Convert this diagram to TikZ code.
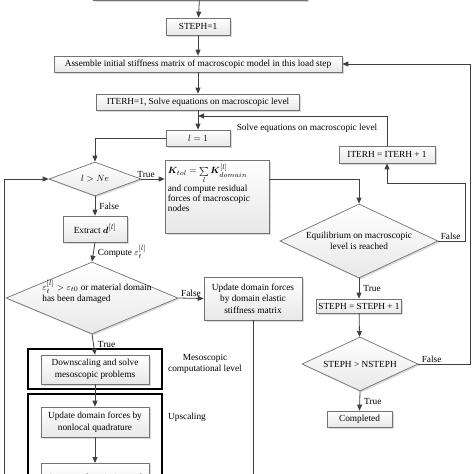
\documentclass[tikz,border=0pt]{standalone}
\usepackage{amsmath,bm}
\usepackage{fontspec}
\setmainfont{Liberation Serif}
\usetikzlibrary{shapes.geometric,arrows.meta,shadows}
\begin{document}
\begin{tikzpicture}[x=1pt,y=-1pt,font=\fontsize{9.3}{11.5}\selectfont,
  >={Triangle[length=6pt,width=5pt]}]
  \tikzstyle{line}=[draw=black!75, line width=0.8pt]
  \tikzstyle{box}=[draw=black!55, top color=white, bottom color=black!9, line width=0.7pt,
    inner sep=2pt, align=center,
    drop shadow={shadow xshift=1.5pt, shadow yshift=-1.5pt, opacity=0.3}]
  \tikzstyle{dec}=[box, diamond, aspect=2.5, inner sep=0pt]
  \tikzstyle{frame}=[draw=black, line width=1.8pt]
  \tikzstyle{lab}=[inner sep=1pt]
  \useasboundingbox (0,0) rectangle (474,474);
  \clip (0,0) rectangle (474,474);

  % main column
  \node[box, minimum width=214pt, minimum height=24pt] (top) at (200,-12) {};
  \node[box, minimum width=64pt, minimum height=17pt] (steph) at (198,26.5) {STEPH=1};
  \node[box, minimum width=288pt, minimum height=16pt] (asm) at (198,64)
    {Assemble initial stiffness matrix of macroscopic model in this load step};
  \node[box, minimum width=203pt, minimum height=16pt] (iterh) at (198,102)
    {ITERH=1, Solve equations on macroscopic level};
  \node[box, minimum width=64pt, minimum height=16pt] (linit) at (198,138) {$l=1$};
  \node[dec, minimum width=92pt, minimum height=34pt] (lne) at (95,179) {$l>Ne$};
  \node[box, minimum width=64pt, minimum height=26pt] (extr) at (95,229) {Extract $\bm{d}^{[l]}$};
  \node[dec, minimum width=172pt, minimum height=72pt] (dmg) at (92,298) {};
  \node[lab, align=left] (dmgtxt) at (97,292)
    {$\varepsilon_t^{[l]} > \varepsilon_{t0}$ or material domain\\has been damaged};
  \node[box, minimum width=98pt, minimum height=43pt] (upd) at (253,298.5)
    {Update domain forces\\by domain elastic\\stiffness matrix};

  % mesoscopic level
  \node[frame, minimum width=134pt, minimum height=40pt] (meso) at (95,369) {};
  \node[frame, minimum width=134pt, minimum height=100pt, anchor=north] (upsc) at (95,393) {};
  \node[box, minimum width=108pt, minimum height=29pt] (down) at (95,369.5)
    {Downscaling and solve\\mesoscopic problems};
  \node[box, minimum width=108pt, minimum height=30pt] (nonloc) at (95,422)
    {Update domain forces by\\nonlocal quadrature};
  \node[box, minimum width=108pt, minimum height=40pt, anchor=north] (intf) at (95,463)
    {Compute domain internal\\forces};
  \node[lab, align=center] (mesolab) at (205,364) {Mesoscopic\\computational level};
  \node[lab] (upsclab) at (187,417) {Upscaling};

  % macroscopic side
  \node[box, minimum width=104pt, minimum height=73pt] (ktot) at (217,196.5) {};
  \node[lab, anchor=north west, align=left, font=\fontsize{9.3}{10.3}\selectfont] (ktottxt)
    at ([xshift=2pt,yshift=-3pt]ktot.north west)
    {$\bm{K}_{tol}=\sum\limits_{l}\bm{K}_{domain}^{[l]}$\\and compute residual\\forces of macroscopic\\nodes};
  \node[dec, minimum width=158pt, minimum height=74pt] (eq) at (359,241) {};
  \node[lab, align=center] (eqtxt) at (eq) {Equilibrium on macroscopic\\level is reached};
  \node[box, minimum width=96pt, minimum height=17pt] (iterinc) at (387,154.5) {ITERH = ITERH + 1};
  \node[lab] (solvelab) at (307,128) {Solve equations on macroscopic level};
  \node[box, minimum width=78pt, minimum height=14pt] (stephinc) at (359,306) {STEPH = STEPH + 1};
  \node[dec, minimum width=116pt, minimum height=54pt] (nst) at (360,364) {STEPH > NSTEPH};
  \node[box, minimum width=65pt, minimum height=16pt] (done) at (359.5,419) {Completed};

  \coordinate (lbot) at (4,490);
  \coordinate (ubot) at (253,490);
  \coordinate (rout) at (470,64);
  \coordinate (rin) at (465,183);
  \coordinate (join) at (198,116);

  % connectors
  \draw[line,->] (top) -- (steph);
  \draw[line,->] (steph) -- (asm);
  \draw[line,->] (asm) -- (iterh);
  \draw[line,->] (iterh) -- (linit);
  \draw[line,->] (linit.west) -| (lne.north);
  \draw[line,->] (lne.east) -- node[lab, above, pos=0.2] {True} (ktot.west |- lne.east);
  \draw[line,->] (lne.south) -- node[lab, right=3pt] {False} (extr.north);
  \draw[line,->] (extr.south) -- node[lab, right=3pt] {Compute $\varepsilon_t^{[l]}$} (dmg.north);
  \draw[line,->] (dmg.east) -- node[lab, above] {False} (upd.west);
  \draw[line,->] (dmg.south) -- node[lab, right=3pt] {True} (down.north);
  \draw[line] (upd.south) -- (ubot);
  \draw[line,->] (down) -- (nonloc);
  \draw[line,->] (nonloc) -- (intf);
  \draw[line,->] (lbot) |- (lne.west);
  \draw[line,->] (ktot.east |- lne.east) -| (eq.north);
  \draw[line,->] (eq.east) -| node[lab, above right, pos=0.02] {False} (rin) -| (iterinc.south);
  \draw[line,->] (iterinc.north) |- (join);
  \draw[line,->] (eq.south) -- node[lab, right=3pt] {True} (stephinc.north);
  \draw[line,->] (stephinc) -- (nst);
  \draw[line,->] (nst.south) -- node[lab, right=3pt] {True} (done.north);
  \draw[line,->] (nst.east) -| node[lab, above right, pos=0.02] {False} (rout) -- (asm.east);
\end{tikzpicture}
\end{document}
